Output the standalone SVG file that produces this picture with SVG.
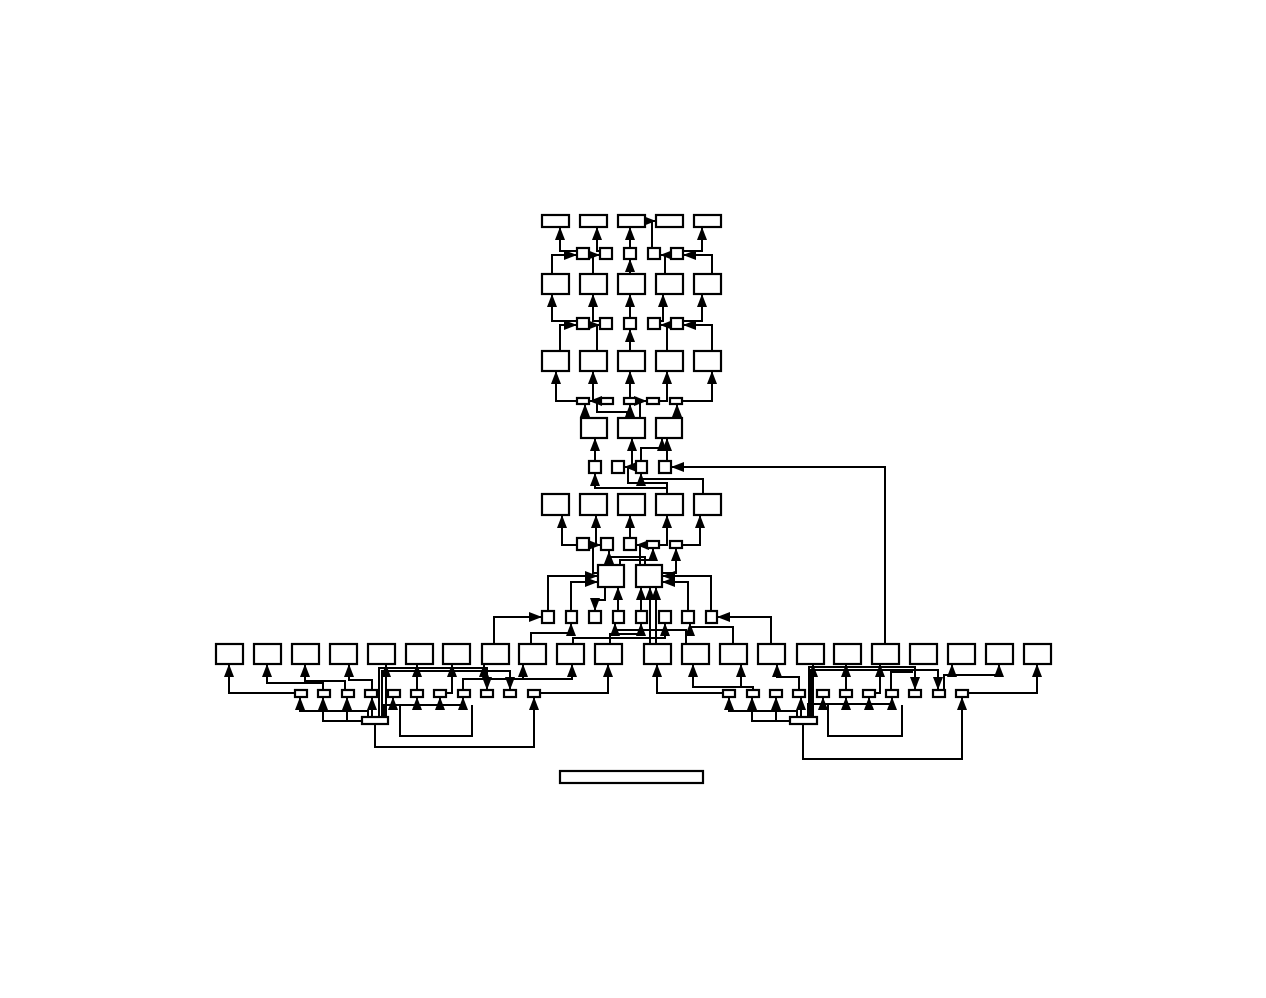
<svg xmlns="http://www.w3.org/2000/svg" width="1266" height="998" viewBox="0 0 1266 998">
<style>
.n{fill:#fff;stroke:#000;stroke-width:2.2}
.e{fill:none;stroke:#000;stroke-width:2;marker-end:url(#ah)}
.l{fill:none;stroke:#000;stroke-width:2}
</style>
<defs>
<marker id="ah" markerUnits="userSpaceOnUse" markerWidth="13" markerHeight="10" refX="13" refY="5" orient="auto"><path d="M0,0 L13,5 L0,10 z" fill="#000"/></marker>
</defs>
<rect width="1266" height="998" fill="#fff"/>
<g id="connectors">
<path class="e" d="M577,251 H560 V227"/>
<path class="e" d="M552,274 V255 H577"/>
<path class="e" d="M600,251 H597 V227"/>
<path class="e" d="M593,274 V255 H600"/>
<path class="e" d="M630,248 V227"/>
<path class="e" d="M630,274 V259"/>
<path class="e" d="M652,248 V221 H656"/>
<path class="e" d="M665,274 V255 H660"/>
<path class="e" d="M683,251 H702 V227"/>
<path class="e" d="M712,274 V255 H683"/>
<path class="e" d="M577,321 H552 V294"/>
<path class="e" d="M560,351 V325 H577"/>
<path class="e" d="M600,321 H593 V294"/>
<path class="e" d="M597,351 V325 H600"/>
<path class="e" d="M630,318 V294"/>
<path class="e" d="M630,351 V329"/>
<path class="e" d="M659,321 H663 V294"/>
<path class="e" d="M667,351 V325 H660"/>
<path class="e" d="M683,321 H702 V294"/>
<path class="e" d="M712,351 V325 H683"/>
<path class="e" d="M577,401 H556 V371"/>
<path class="e" d="M601,401 H593 V371"/>
<path class="e" d="M630,398 V371"/>
<path class="e" d="M659,401 H667 V371"/>
<path class="e" d="M682,401 H712 V371"/>
<path class="e" d="M585,418 V404"/>
<path class="e" d="M627,418 V412 H597 V401 H589"/>
<path class="e" d="M630,418 V404"/>
<path class="e" d="M640,418 V401 H647"/>
<path class="e" d="M677,418 V404"/>
<path class="e" d="M595,461 V438"/>
<path class="e" d="M636,467 H632 V438"/>
<path class="e" d="M641,461 V448 H662 V438"/>
<path class="e" d="M667,461 V438"/>
<path class="e" d="M667,494 V488 H595 V473"/>
<path class="e" d="M667,494 V483 H628 V467 H624"/>
<path class="e" d="M703,494 V479 H641 V473"/>
<path class="e" d="M885,644 V467 H671"/>
<path class="e" d="M577,545 H562 V515"/>
<path class="e" d="M601,545 H596 V515"/>
<path class="e" d="M630,538 V515"/>
<path class="e" d="M659,545 H667 V515"/>
<path class="e" d="M682,545 H700 V515"/>
<path class="e" d="M598,573 H593 V545 H601"/>
<path class="e" d="M645,565 V557 H609 V551"/>
<path class="e" d="M620,565 V560 H653 V548"/>
<path class="e" d="M662,573 H676 V548"/>
<path class="e" d="M640,565 V545 H636"/>
<path class="e" d="M548,611 V576 H598"/>
<path class="e" d="M571,611 V582 H598"/>
<path class="e" d="M605,587 V600 H595 V611"/>
<path class="e" d="M618,611 V587"/>
<path class="e" d="M641,611 V587"/>
<path class="e" d="M711,611 V576 H662"/>
<path class="e" d="M688,611 V582 H662"/>
<path class="e" d="M650,644 V587"/>
<path class="e" d="M656,644 V587"/>
<path class="e" d="M494,644 V617 H542"/>
<path class="e" d="M531,644 V633 H571 V623"/>
<path class="e" d="M573,644 V638 H665 V623"/>
<path class="e" d="M610,644 V634 H641 V623"/>
<path class="e" d="M686,644 V630 H615 V623"/>
<path class="e" d="M733,644 V627 H690 V623"/>
<path class="e" d="M771,644 V617 H717"/>
<path class="e" d="M295,693 H229 V664"/>
<path class="e" d="M323,690 V683 H267 V664"/>
<path class="e" d="M345,690 V681 H305 V664"/>
<path class="e" d="M372,690 V680 H349 V664"/>
<path class="e" d="M386,717 V664"/>
<path class="e" d="M417,690 V664"/>
<path class="e" d="M446,693 H452 V664"/>
<path class="e" d="M379,717 V668 H484 V664"/>
<path class="e" d="M379,717 V668 H487 V690"/>
<path class="e" d="M382,717 V671 H510 V690"/>
<path class="e" d="M463,690 V679 H523 V664"/>
<path class="e" d="M463,690 V679 H572 V664"/>
<path class="e" d="M540,693 H608 V664"/>
<path class="e" d="M368,717 V711 H300 V697"/>
<path class="e" d="M362,721 H323 V697"/>
<path class="e" d="M362,721 H347 V697"/>
<path class="e" d="M372,717 V697"/>
<path class="e" d="M384,717 V705 H393 V697"/>
<path class="e" d="M384,717 V705 H417 V697"/>
<path class="e" d="M384,717 V705 H440 V697"/>
<path class="e" d="M384,717 V705 H463 V697"/>
<path class="l" d="M472,705 V736 H400 V705"/>
<path class="e" d="M375,724 V747 H534 V697"/>
<path class="e" d="M723,693 H657 V664"/>
<path class="e" d="M753,690 V687 H693 V664"/>
<path class="e" d="M753,690 V687 H741 V664"/>
<path class="e" d="M799,690 V677 H777 V664"/>
<path class="e" d="M797,717 V711 H729 V697"/>
<path class="e" d="M790,721 H752 V697"/>
<path class="e" d="M790,721 H776 V697"/>
<path class="e" d="M801,717 V697"/>
<path class="e" d="M808,717 V704 H823 V697"/>
<path class="e" d="M808,717 V704 H846 V697"/>
<path class="e" d="M808,717 V704 H869 V697"/>
<path class="e" d="M808,717 V704 H892 V697"/>
<path class="l" d="M828,705 V736 H902 V705"/>
<path class="e" d="M813,717 V664"/>
<path class="e" d="M846,690 V664"/>
<path class="e" d="M875,693 H880 V664"/>
<path class="e" d="M809,717 V667 H915 V690"/>
<path class="e" d="M811,717 V670 H938 V690"/>
<path class="l" d="M891,690 V672 H913"/>
<path class="e" d="M944,690 V675 H952 V664"/>
<path class="e" d="M944,690 V675 H999 V664"/>
<path class="e" d="M968,693 H1037 V664"/>
<path class="e" d="M803,724 V759 H962 V697"/>
</g>
<g id="rowA"><rect class="n" x="542" y="215" width="27" height="12"/><rect class="n" x="580" y="215" width="27" height="12"/><rect class="n" x="618" y="215" width="27" height="12"/><rect class="n" x="656" y="215" width="27" height="12"/><rect class="n" x="694" y="215" width="27" height="12"/></g>
<g id="rowa"><rect class="n" x="577" y="248" width="12" height="11"/><rect class="n" x="600" y="248" width="12" height="11"/><rect class="n" x="624" y="248" width="12" height="11"/><rect class="n" x="648" y="248" width="12" height="11"/><rect class="n" x="671" y="248" width="12" height="11"/></g>
<g id="rowB"><rect class="n" x="542" y="274" width="27" height="20"/><rect class="n" x="580" y="274" width="27" height="20"/><rect class="n" x="618" y="274" width="27" height="20"/><rect class="n" x="656" y="274" width="27" height="20"/><rect class="n" x="694" y="274" width="27" height="20"/></g>
<g id="rowb"><rect class="n" x="577" y="318" width="12" height="11"/><rect class="n" x="600" y="318" width="12" height="11"/><rect class="n" x="624" y="318" width="12" height="11"/><rect class="n" x="648" y="318" width="12" height="11"/><rect class="n" x="671" y="318" width="12" height="11"/></g>
<g id="rowC"><rect class="n" x="542" y="351" width="27" height="20"/><rect class="n" x="580" y="351" width="27" height="20"/><rect class="n" x="618" y="351" width="27" height="20"/><rect class="n" x="656" y="351" width="27" height="20"/><rect class="n" x="694" y="351" width="27" height="20"/></g>
<g id="rowc"><rect class="n" x="577" y="398" width="12" height="6"/><rect class="n" x="601" y="398" width="12" height="6"/><rect class="n" x="624" y="398" width="12" height="6"/><rect class="n" x="647" y="398" width="12" height="6"/><rect class="n" x="670" y="398" width="12" height="6"/></g>
<g id="rowD"><rect class="n" x="581" y="418" width="26" height="20"/><rect class="n" x="618" y="418" width="27" height="20"/><rect class="n" x="656" y="418" width="26" height="20"/></g>
<g id="rowd"><rect class="n" x="589" y="461" width="12" height="12"/><rect class="n" x="612" y="461" width="12" height="12"/><rect class="n" x="636" y="461" width="11" height="12"/><rect class="n" x="659" y="461" width="12" height="12"/></g>
<g id="rowE"><rect class="n" x="542" y="494" width="27" height="21"/><rect class="n" x="580" y="494" width="27" height="21"/><rect class="n" x="618" y="494" width="27" height="21"/><rect class="n" x="656" y="494" width="27" height="21"/><rect class="n" x="694" y="494" width="27" height="21"/></g>
<g id="rowe"><rect class="n" x="577" y="538" width="12" height="12"/><rect class="n" x="601" y="538" width="12" height="12"/><rect class="n" x="624" y="538" width="12" height="12"/><rect class="n" x="647" y="541" width="12" height="7"/><rect class="n" x="670" y="541" width="12" height="7"/></g>
<g id="rowF"><rect class="n" x="598" y="565" width="26" height="22"/><rect class="n" x="636" y="565" width="26" height="22"/></g>
<g id="rowf"><rect class="n" x="542" y="611" width="12" height="12"/><rect class="n" x="566" y="611" width="11" height="12"/><rect class="n" x="589" y="611" width="12" height="12"/><rect class="n" x="613" y="611" width="11" height="12"/><rect class="n" x="636" y="611" width="11" height="12"/><rect class="n" x="659" y="611" width="12" height="12"/><rect class="n" x="682" y="611" width="12" height="12"/><rect class="n" x="706" y="611" width="11" height="12"/></g>
<g id="rowG"><rect class="n" x="216" y="644" width="27" height="20"/><rect class="n" x="254" y="644" width="27" height="20"/><rect class="n" x="292" y="644" width="27" height="20"/><rect class="n" x="330" y="644" width="27" height="20"/><rect class="n" x="368" y="644" width="27" height="20"/><rect class="n" x="406" y="644" width="27" height="20"/><rect class="n" x="443" y="644" width="27" height="20"/><rect class="n" x="482" y="644" width="27" height="20"/><rect class="n" x="519" y="644" width="27" height="20"/><rect class="n" x="557" y="644" width="27" height="20"/><rect class="n" x="595" y="644" width="27" height="20"/><rect class="n" x="644" y="644" width="27" height="20"/><rect class="n" x="682" y="644" width="27" height="20"/><rect class="n" x="720" y="644" width="27" height="20"/><rect class="n" x="758" y="644" width="27" height="20"/><rect class="n" x="797" y="644" width="27" height="20"/><rect class="n" x="834" y="644" width="27" height="20"/><rect class="n" x="872" y="644" width="27" height="20"/><rect class="n" x="910" y="644" width="27" height="20"/><rect class="n" x="948" y="644" width="27" height="20"/><rect class="n" x="986" y="644" width="27" height="20"/><rect class="n" x="1024" y="644" width="27" height="20"/></g>
<g id="rowg"><rect class="n" x="295" y="690" width="12" height="7"/><rect class="n" x="318" y="690" width="12" height="7"/><rect class="n" x="342" y="690" width="12" height="7"/><rect class="n" x="365" y="690" width="12" height="7"/><rect class="n" x="388" y="690" width="12" height="7"/><rect class="n" x="411" y="690" width="12" height="7"/><rect class="n" x="434" y="690" width="12" height="7"/><rect class="n" x="458" y="690" width="12" height="7"/><rect class="n" x="481" y="690" width="12" height="7"/><rect class="n" x="504" y="690" width="12" height="7"/><rect class="n" x="528" y="690" width="12" height="7"/></g>
<g id="rowh"><rect class="n" x="723" y="690" width="12" height="7"/><rect class="n" x="747" y="690" width="12" height="7"/><rect class="n" x="770" y="690" width="12" height="7"/><rect class="n" x="793" y="690" width="12" height="7"/><rect class="n" x="817" y="690" width="12" height="7"/><rect class="n" x="840" y="690" width="12" height="7"/><rect class="n" x="863" y="690" width="12" height="7"/><rect class="n" x="886" y="690" width="12" height="7"/><rect class="n" x="909" y="690" width="12" height="7"/><rect class="n" x="933" y="690" width="12" height="7"/><rect class="n" x="956" y="690" width="12" height="7"/></g>
<g id="gL"><rect class="n" x="362" y="717" width="26" height="7"/></g>
<g id="gR"><rect class="n" x="790" y="717" width="27" height="7"/></g>
<g id="long"><rect class="n" x="560" y="771" width="143" height="12"/></g>
</svg>
